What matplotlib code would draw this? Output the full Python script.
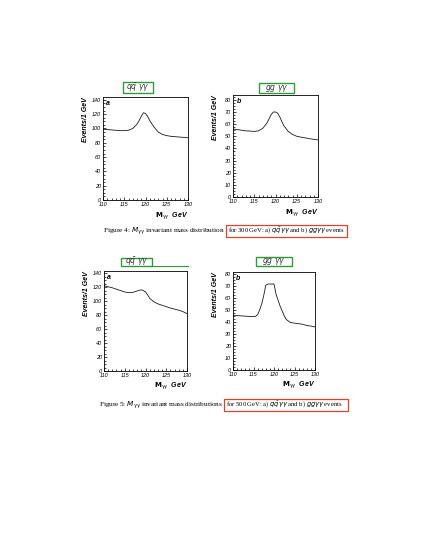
import matplotlib
matplotlib.use("Agg")
from matplotlib import pyplot as plt
from matplotlib.patches import Rectangle
from matplotlib.ticker import MultipleLocator

# M_gg spectra (Events / 1 GeV)
mass_a = [110, 111, 112, 113, 114, 115, 116, 117, 118, 118.5, 119, 119.5, 120, 120.5, 121, 122, 123, 124, 125, 126, 127, 128, 129, 130]
events_a = [99, 98.5, 98, 97.5, 97, 97, 97.5, 100, 106, 111, 117, 122, 121, 117, 111, 102, 95, 91.5, 90, 89, 88.5, 88, 87.5, 87]

mass_b = [110, 111, 112, 113, 114, 115, 116, 117, 118, 118.5, 119, 119.5, 120, 120.5, 121, 121.5, 122, 123, 124, 125, 126, 127, 128, 129, 130]
events_b = [56, 55.5, 55, 54.5, 54.3, 54, 54.5, 56.5, 61, 64.5, 68, 70, 70, 69, 66, 62, 58.5, 54, 51.5, 50, 49.3, 48.7, 48, 47.5, 47]

mass_c = [110, 111, 112, 113, 114, 115, 116, 117, 118, 118.5, 119, 119.5, 120, 120.5, 121, 122, 123, 124, 125, 126, 127, 128, 129, 130]
events_c = [122, 120.5, 119, 117, 115, 113, 112, 112.5, 114.5, 115.5, 116, 115, 113, 109, 104, 99, 96, 94, 92, 90, 88.5, 87, 85, 82]

mass_d = [110, 111, 112, 113, 114, 115, 115.5, 116, 116.5, 117, 117.5, 118, 118.5, 119, 119.5, 120, 120.5, 121, 121.5, 122, 122.5, 123, 124, 125, 126, 127, 128, 129, 130]
events_d = [45.5, 45.3, 45, 44.8, 44.5, 44.4, 44.6, 46, 50, 55, 62, 70.5, 71.5, 71.5, 71.5, 71.5, 63, 58, 53, 49, 45, 42, 39.5, 39, 38.5, 38, 37, 36.5, 35.8]

x_ticks = [110, 115, 120, 125, 130]
panel_letters = ["a", "b", "a", "b"]
hand_labels = [r"$q\bar{q}\ \gamma\gamma$", r"$gg\ \gamma\gamma$", r"$q\bar{q}\ \gamma\gamma$", r"$gg\ \gamma\gamma$"]
caption4 = ["Figure 4: $M_{\\gamma\\gamma}$ invariant mass distribution",
            "for 300 GeV: a) $q\\bar{q}\\gamma\\gamma$ and b) $gg\\gamma\\gamma$ events"]
caption5 = ["Figure 5: $M_{\\gamma\\gamma}$ invariant mass distributions",
            "for 500 GeV: a) $q\\bar{q}\\gamma\\gamma$ and b) $gg\\gamma\\gamma$ events"]

W, H = 425, 550
fig = plt.figure(figsize=(W / 100, H / 100), dpi=100)
fig.patch.set_facecolor("white")

def px_axes(l, t, r, b):
  return fig.add_axes([l / W, 1 - b / H, (r - l) / W, (b - t) / H])

def px_rect(l, t, r, b, color, lw=0.9):
  fig.patches.append(Rectangle((l / W, 1 - b / H), (r - l) / W, (b - t) / H,
                               transform=fig.transFigure, fill=False,
                               edgecolor=color, lw=lw))

green = "#2f9a3a"
red = "#d8452f"

panels = [
  (mass_a, events_a, (103, 97, 188, 200), 144, 20, (123, 82, 153, 93)),
  (mass_b, events_b, (233, 95, 318, 197), 84, 10, (259, 83, 294, 93)),
  (mass_c, events_c, (104, 271, 187, 371), 143, 20, (121, 258, 152, 266)),
  (mass_d, events_d, (233, 272, 315, 370), 81.5, 10, (256, 257, 292, 266)),
]

for i, (x, y, box, ytop, ystep, gbox) in enumerate(panels):
  ax = px_axes(*box)
  ax.plot(x, y, color="#1a1a1a", lw=0.6)
  ax.set_xlim(110, 130)
  ax.set_ylim(0, ytop)
  ax.set_xticks(x_ticks)
  ax.yaxis.set_major_locator(MultipleLocator(ystep))
  ax.xaxis.set_minor_locator(MultipleLocator(1))
  ax.yaxis.set_minor_locator(MultipleLocator(ystep / 4))
  ax.tick_params(which="both", direction="in", top=False, right=False, width=0.5, pad=1.5)
  ax.tick_params(which="major", length=2.5)
  ax.tick_params(which="minor", length=1.2)
  for lab in ax.get_xticklabels() + ax.get_yticklabels():
    lab.set_fontfamily("Liberation Sans")
    lab.set_fontstyle("italic")
    lab.set_fontsize(4)
  for s in ax.spines.values():
    s.set_linewidth(0.6)
  ax.text(0.04, 0.97, panel_letters[i], transform=ax.transAxes, ha="left", va="top",
          fontsize=5, style="italic", fontweight="bold", family="Liberation Sans")
  ax.text(-0.21, 1.0, "Events/1 GeV", transform=ax.transAxes, rotation=90,
          ha="center", va="top", fontsize=5, style="italic", fontweight="bold",
          family="Liberation Sans")
  ax.text(1.0, -0.1, r"$\mathbf{M}_{\gamma\gamma}$  GeV", transform=ax.transAxes,
          ha="right", va="top", fontsize=5, style="italic", fontweight="bold",
          family="Liberation Sans")
  # handwritten green label above each panel
  px_rect(*gbox, green, lw=1.0)
  fig.text(((gbox[0] + gbox[2]) / 2) / W, 1 - ((gbox[1] + gbox[3]) / 2) / H, hand_labels[i],
           ha="center", va="center", fontsize=5.5, color="#333333")

# green line trailing the lower-left label
fig.lines.append(plt.Line2D([152 / W, 188 / W], [1 - 266 / H, 1 - 266 / H],
                            transform=fig.transFigure, color=green, lw=0.8))

# captions with red boxes round the second half
for cap, yc, rbox in [(caption4, 231, (226, 225, 347, 237)), (caption5, 405, (224, 399, 348, 411))]:
  fig.text((rbox[0] - 1) / W, 1 - yc / H, cap[0], ha="right", va="center",
           fontsize=5.2, family="Liberation Serif")
  fig.text((rbox[0] + 2) / W, 1 - yc / H, cap[1], ha="left", va="center",
           fontsize=4.8, family="Liberation Serif")
  px_rect(*rbox, red, lw=0.9)

fig.savefig("out.png", dpi=100, facecolor="white")
